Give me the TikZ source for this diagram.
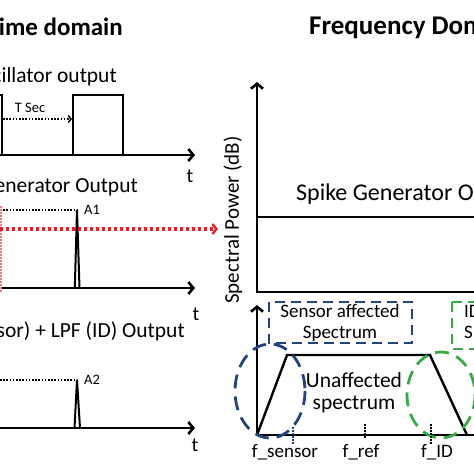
\documentclass[tikz,border=0pt]{standalone}
\usepackage{fontspec}
\setmainfont{Carlito}
\usetikzlibrary{arrows.meta}
\definecolor{dblue}{RGB}{38,66,125}
\definecolor{dgreen}{RGB}{58,170,72}
\definecolor{dred}{RGB}{226,32,40}
\definecolor{lred}{RGB}{240,120,120}
\tikzset{
  lbl/.style={inner sep=0pt, font=\fontsize{21.5}{25}\selectfont},
  tl/.style={inner sep=0pt, font=\fontsize{20}{24}\selectfont},
  boxt/.style={inner sep=0pt, font=\fontsize{19}{22}\selectfont},
  flbl/.style={inner sep=0pt, font=\fontsize{19}{22}\selectfont},
  small/.style={inner sep=0pt, font=\fontsize{14.5}{17}\selectfont},
  ttl/.style={inner sep=0pt, font=\fontsize{25}{30}\selectfont\bfseries},
  ttlr/.style={inner sep=0pt, font=\fontsize{27}{32}\selectfont\bfseries},
  axis/.style={line width=2.6pt, -{Straight Barb[length=5pt,width=12pt]}},
  plain/.style={line width=2.6pt},
  sig/.style={line width=2.4pt, line join=miter},
  spike/.style={line width=2pt, line join=miter},
  dotarrow/.style={line width=1.6pt, dash pattern=on 1.6pt off 1.6pt, -{Straight Barb[length=3pt,width=7pt,line width=1.4pt]}},
  redarrow/.style={dred, line width=3.2pt, dash pattern=on 3pt off 3pt, -{Straight Barb[length=4pt,width=10pt,line width=2.4pt]}},
  dotline/.style={line width=1.6pt, dash pattern=on 1.6pt off 1.6pt},
  bluebox/.style={dblue, line width=2.8pt, dash pattern=on 10pt off 6pt},
  greenbox/.style={dgreen, line width=2.8pt, dash pattern=on 10pt off 6pt},
  tick/.style={line width=1.2pt, dash pattern=on 1.5pt off 1.5pt},
}
\begin{document}
\begin{tikzpicture}[x=1pt,y=-1pt]
\useasboundingbox (0,0) rectangle (474,474);
\fill[white] (0,0) rectangle (474,474);
\clip (0,0) rectangle (474,474);

% ---------------- Time domain ----------------
\node[ttl, anchor=base east] (ttitle) at (123,35) {Time domain};

% Oscillator
\node[lbl, anchor=base east] (osc) at (117,82) {Oscillator output};
\coordinate (a1s) at (-5,155);
\coordinate (a1e) at (195,155);
\draw[axis] (a1s) -- (a1e);
\node[tl, anchor=center] (t1) at (190,176) {t};
\draw[sig] (-10,95) -- (2,95) -- (2,155);
\draw[sig] (73,155) -- (73,95) -- (123,95) -- (123,155);
\coordinate (ts) at (3,119);
\coordinate (te) at (72,119);
\draw[dotarrow] (ts) -- (te);
\node[small, anchor=center] (tsec) at (30,108) {T Sec};

% Spike generator
\node[lbl, anchor=base east] (spk) at (138,192) {Spike Generator Output};
\coordinate (a2s) at (-5,288);
\coordinate (a2e) at (195,288);
\draw[axis] (a2s) -- (a2e);
\node[tl, anchor=center] (t2) at (196,314) {t};
\coordinate (p1) at (77,210);
\draw[dotline] (0,210) -- (p1);
\draw[spike] (74.8,288) -- (p1) -- (79.5,288);
\node[small, anchor=west] (A1) at (84,210) {A1};
\draw[lred, line width=1.6pt, dash pattern=on 1.5pt off 1.5pt] (1,206) -- (1,292);
\coordinate (rs) at (0,229);
\coordinate (re) at (218,229);
\draw[redarrow] (rs) -- (re);

% HPF + LPF output
\node[lbl, anchor=base east] (hpf) at (185,337) {(Sensor) + LPF (ID) Output};
\coordinate (a3s) at (-5,428);
\coordinate (a3e) at (195,428);
\draw[axis] (a3s) -- (a3e);
\node[tl, anchor=center] (t3) at (195,445) {t};
\coordinate (p2) at (77,380);
\draw[dotline] (0,380) -- (p2);
\draw[spike] (74.5,428) -- (p2) -- (80,428);
\node[small, anchor=west] (A2) at (84,380) {A2};

% ---------------- Frequency domain ----------------
\node[ttlr, anchor=base west] (ftitle) at (309,34) {Frequency Domain};
\node[inner sep=0pt, font=\fontsize{21}{24}\selectfont, anchor=center, rotate=90] (ylab) at (233,220) {Spectral Power (dB)};

\draw[axis] (257,293) -- (257,82);
\draw[plain] (256,292) -- (480,292);
\draw[plain] (257,217) -- (480,217);
\node[inner sep=0pt, font=\fontsize{24}{28}\selectfont, anchor=base west] (sgo) at (296,200) {Spike Generator Output};

\draw[axis] (257,436) -- (257,305);
\draw[plain] (256,435) -- (480,435);
\draw[sig] (257,435) -- (287,355) -- (430,355) -- (467,435);

\node[inner sep=0pt, font=\fontsize{21.5}{24}\selectfont, anchor=base] (unaff1) at (354,387) {Unaffected};
\node[inner sep=0pt, font=\fontsize{21.5}{24}\selectfont, anchor=base] (unaff2) at (354,409) {spectrum};

% sensor box
\draw[bluebox] (269,302) rectangle (412,343);
\node[boxt, anchor=base] (sa1) at (340,317) {Sensor affected};
\node[boxt, anchor=base] (sa2) at (340,338) {Spectrum};

% ID box
\draw[greenbox] (452,302) -- (452,349) -- (495,349);
\draw[greenbox] (452,302) -- (495,302);
\node[boxt, anchor=base west] (ia1) at (464,317) {ID affected};
\node[boxt, anchor=base west] (ia2) at (464,338) {Spectrum};

% ellipses
\draw[dblue, line width=2.8pt, dash pattern=on 14pt off 8pt] (270,391) ellipse [x radius=35, y radius=47];
\draw[dgreen, line width=2.8pt, dash pattern=on 14pt off 8pt] (441,395) ellipse [x radius=34, y radius=43];

% ticks and labels
\draw[tick, dblue] (293,427) -- (293,445);
\draw[tick] (365,424) -- (365,438);
\draw[tick] (431,424) -- (431,445);
\node[flbl, anchor=base] (fs) at (285,457) {f\_sensor};
\node[flbl, anchor=base] (fr) at (361,457) {f\_ref};
\node[flbl, anchor=base] (fi) at (437,457) {f\_ID};
\end{tikzpicture}
\end{document}
